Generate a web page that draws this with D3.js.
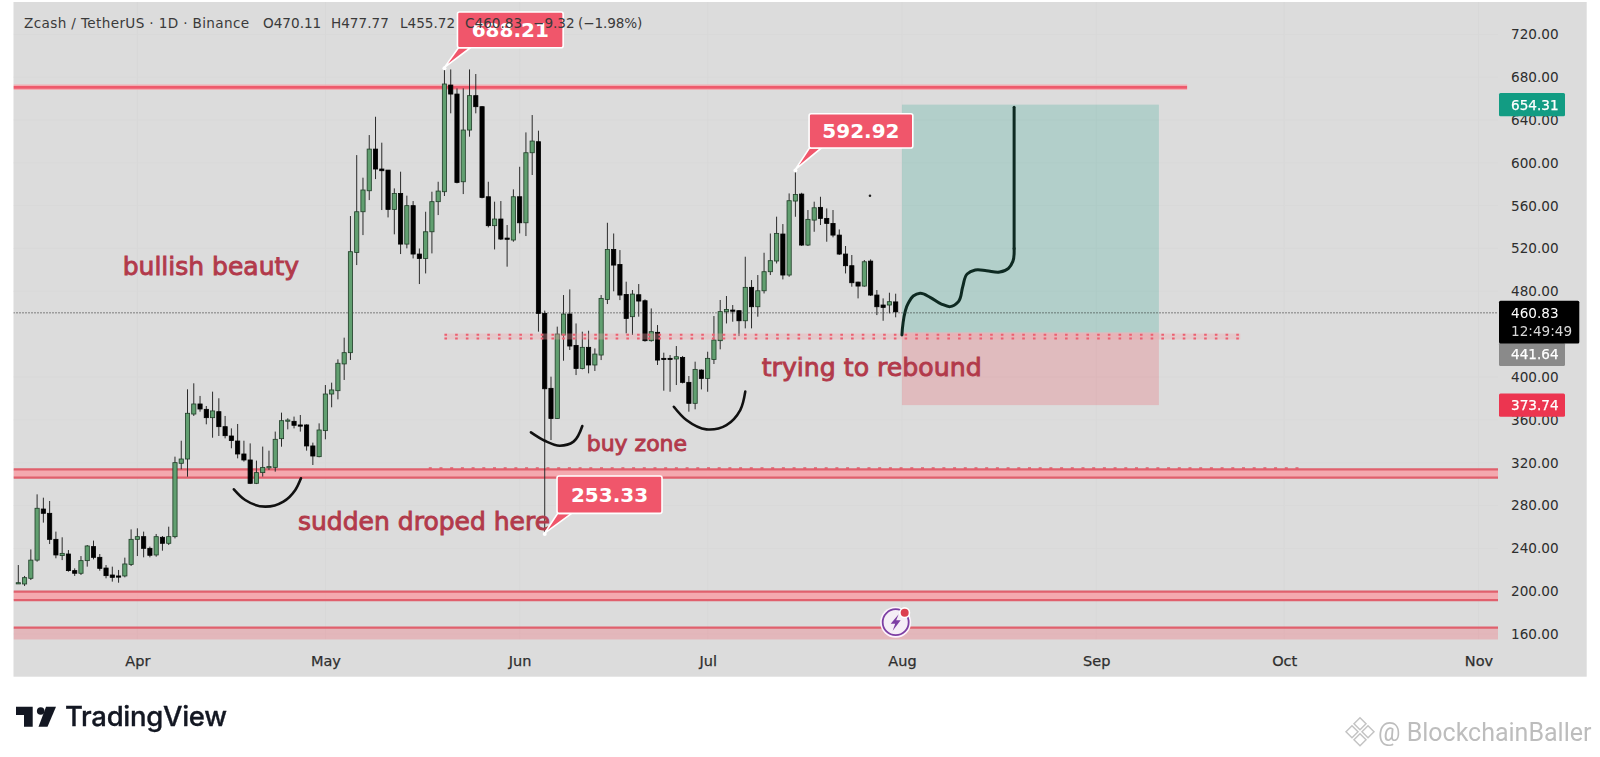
<!DOCTYPE html>
<html><head><meta charset="utf-8">
<script src="https://cdn.jsdelivr.net/npm/d3@7/dist/d3.min.js"></script>
<style>html,body{margin:0;padding:0;background:#fff;overflow:hidden}svg{display:block;filter:blur(.45px)}</style>
</head><body><svg id="c" width="1600" height="757"></svg>
<script>
// ---------- data ----------
const firstDay = "2025-03-13";
const opens = [207.2,206.7,212,229,276.7,272.7,248.4,233.2,234.7,219.2,
 216.7,228.5,241.6,231.6,221.6,215.1,214.2,214.2,225,248.4,
 250.9,240,233.8,250.3,244.7,250.9,319.4,323.4,365.4,374.8,
 369.8,362,367.6,353.6,344.9,340.2,328.1,322.5,300.7,310.7,
 315.3,315.6,342.4,359.2,358.6,355.2,355.2,335.6,325.6,349.9,
 384.1,387.2,412.2,422.7,516.3,554.3,573.9,612.8,594.2,593.2,
 556.5,571.4,524.1,560,514.8,510.7,535.6,563.7,573,672.6,
 664.2,582.3,630.6,662.7,652.4,568.3,541.3,547.5,529.7,527.9,
 568.3,544,609.4,619.7,459.4,389.4,361.3,439.2,458.8,429.5,
 408,427.7,411.2,420.5,472.4,519.1,505.1,477.1,456.3,476.8,
 471.2,433.9,441.7,417.4,417.4,416.8,418.3,395,375.4,406.5,
 398.7,416.4,433.9,460.9,462.5,461.9,452.5,483.7,465.6,480.5,
 498.3,508.3,533.5,495.2,564.3,570.8,523.2,546.5,558.4,548.1,
 543.4,532.5,514.8,503.9,488.6,484.9,508.2,476.5,467.2,467.2,470.11];
const closes = [207.9,212.6,229,277.4,272.7,248.4,233.8,235.3,219.2,216.7,
 228.5,242.2,231.6,221.3,214.5,212.9,213.2,225.4,248.4,250.9,
 240,233.5,250.9,244.7,250.9,320,323.4,366.1,374.8,370.1,
 362,368.3,353.6,345.2,340.6,328.1,322.5,300.7,310.7,315.6,
 316.3,341.8,359.2,359.8,354.9,354.6,335.6,326.2,350.5,384.1,
 387.9,412.8,422.7,517,554.3,574.6,612.8,594.2,592.6,556.5,
 571.4,524.1,560,514.8,510.7,535.6,563.7,573.6,673.6,664.2,
 581.7,630.6,662.7,652.4,567.7,541.3,547.5,528.8,528.8,568.3,
 544,609.4,620.3,459.4,389,361.3,440.1,458.8,428.9,408,
 427.7,411.2,421.4,473.4,519.1,504.5,476.5,454.7,477.4,470.9,
 433.9,442.3,415.8,416.8,416.8,418.9,395,375.4,407.1,398.7,
 417.4,434.5,461,463.1,461.9,452.5,483.7,465.6,480.5,498.3,
 508.6,534.1,495.2,564.6,570.5,523.2,547.2,558,548.1,543.4,
 532.5,514.8,503.9,488,484.9,507.6,476.5,465.6,465,470.3,460.83];
const highs = [224.4,214.2,239,290.4,287.3,284.2,255.6,250.3,238.4,221.3,
 232.8,243.1,247.2,234.7,224.4,222.9,219.8,231.3,257.7,258.7,
 255.6,241.6,253.4,251.5,260.2,325.6,340.5,388.5,394.1,382.3,
 372.9,386.3,380.1,363.6,352,356.1,340.5,338,321.9,335,
 331.2,349,366.7,361.4,363,364.5,355.8,338.7,356.7,392.5,
 394.7,416.5,436.7,550.3,607.2,586.1,625.9,643,618.8,593.2,
 576.1,591.7,569.3,564.3,520,554.3,573,582.3,688.21,687.2,
 669.5,669.5,687.2,682.9,653,582.3,563.7,564.3,541.9,575.2,
 596.3,628.4,644.6,630,462,400.3,447,476.5,481.8,450,
 442.3,443.2,426.7,476.5,544,534,518.5,489,481.2,486.8,
 472.5,464,448.5,422.7,420.5,428.9,419.6,400.9,414.3,407.1,
 423.6,456.9,471.9,475.6,467.2,462.5,512.3,490.5,495.2,516,
 534,549.7,542.8,571.4,592.92,572,555.9,563.7,568.3,557.4,
 555.9,537.8,522.3,513.9,489,509.2,509.8,481.2,473.4,478.7,477.77];
const lows = [206.7,204.8,210.4,227.5,264,244,230.7,229,218.2,214.2,
 215.1,222.9,229.7,219.1,212,208.9,207.9,212.9,223.5,232.8,
 231.6,231.6,232.2,237.8,243.1,249.3,313.8,306.9,363.6,367.6,
 355.8,343.3,344.9,342.7,333.4,324,321,300,300,307,
 313.2,311.6,334.9,351.1,352,349,331.2,317.8,325,341.8,
 371.7,379.1,397.2,415.9,504.5,532.5,565.2,584.8,555.9,549,
 533.2,514.8,520.1,510.7,486.8,496.7,515.4,551.2,569,646.2,
 580.8,570.8,624.4,646.2,566.8,539.7,519.1,527.9,503,526.3,
 534.1,531.6,588.6,442.3,253.33,341.1,361,415.2,425.2,401.8,
 407.1,403.4,405.6,415.8,468.1,480,471.8,440.7,439.2,456.3,
 433,433,411.2,387.2,386.2,392.5,394,367.6,369.8,388.4,
 386.2,412.1,425.8,450,451.6,438.2,445.4,445.4,456.3,478,
 495.2,506,491.1,493.6,549.6,522.3,522.3,535.6,541.9,526.3,
 530.4,513.9,496.7,484.3,473.4,484.3,475.6,457.8,452.5,459.4,455.72];

const priceTicks = [720,680,640,600,560,520,480,400,360,320,280,240,200,160];
const monthTicks = ["2025-04-01","2025-05-01","2025-06-01","2025-07-01","2025-08-01","2025-09-01","2025-10-01","2025-11-01"];
const monthNames = ["Apr","May","Jun","Jul","Aug","Sep","Oct","Nov"];

// levels, in price
const lastPrice = 460.83, entry = 441.64, target = 654.31, stop = 373.74;
const topLine = 670.5;
const bands = [[313.8,306],[199.5,191.7]];
const floorBand = [165.9,150];
const midDotted = 437.7, lowDotted = 314.7;
// hand-drawn strokes as [day index, price]
const forecast = [[141,439.2],[142,468.8],[142.8,475.6],[143.9,478.1],[145.5,474.4],[147.3,468.1],[148.7,465.7],[150,470.3],[150.7,484.3],[151.4,496.2],[152.7,499.9],[154.5,499.3],[156.6,498],[158,501.5],[158.7,508],[158.9,520]];
const forecastRise = [[158.9,520],[158.9,651.8]];
const arcA = [[34.4,295.1],[36.2,285.1],[39.4,278.9],[42.3,283.6],[44.2,294.5],[45.1,305.4]];
const arcB = [[81.8,348.3],[84,340.5],[86.4,335.8],[88.6,339.6],[90,354.2]];
const arcC = [[104.6,372.2],[106.6,359.8],[109.8,351.1],[113,355.1],[115.2,369.1],[116,386.3]];
const callouts = [{v:688.21,day:68},{v:592.92,day:124},{v:253.33,day:84}];
const notes = ["bullish beauty","sudden droped here","buy zone","trying to rebound"];
const headerParts = ["Zcash / TetherUS · 1D · Binance","O470.11","H477.77","L455.72","C460.83","−9.32","(−1.98%)"];

// ---------- scales ----------
const W=1600,H=757;
const pane={l:13.5,t:2,r:1498,b:639.5}, frame={r:1586.7,b:676.7};
const t0=Date.parse(firstDay+"T00:00:00Z");
const x=d3.scaleUtc().domain([new Date(t0),new Date(Date.parse("2025-11-01T00:00:00Z"))]).range([18.3,1478.5]);
const y=d3.scaleLinear().domain([160,720]).range([634,34.3]);
const X=i=>x(new Date(t0+i*864e5));
const svg=d3.select("#c");
const F='"DejaVu Sans",sans-serif', TXT="#2e2e2e", RED="#ee5a6c", PALE="#f6a3aa", NOTE="#b23a4b";

svg.append("rect").attr("x",13.5).attr("y",pane.t).attr("width",frame.r-13.5).attr("height",frame.b-pane.t).attr("fill","#dcdcdc");
const defs=svg.append("defs");
defs.append("clipPath").attr("id","pane").append("rect").attr("x",pane.l).attr("y",pane.t).attr("width",pane.r-pane.l).attr("height",pane.b-pane.t);
const g=svg.append("g").attr("clip-path","url(#pane)");

// grid
g.selectAll(".gy").data(priceTicks).join("line").attr("x1",pane.l).attr("x2",pane.r).attr("y1",d=>y(d)).attr("y2",d=>y(d)).attr("stroke","#d9d9d9").attr("stroke-width",1);
const months=monthTicks.map(d=>new Date(d+"T00:00:00Z"));
g.selectAll(".gx").data(months).join("line").attr("x1",d=>x(d)).attr("x2",d=>x(d)).attr("y1",pane.t).attr("y2",pane.b).attr("stroke","#d8d8d8").attr("stroke-width",1);

// position box
const bx0=X(141), bx1=X(182);
g.append("rect").attr("x",bx0).attr("width",bx1-bx0).attr("y",y(target)).attr("height",y(entry)-y(target)).attr("fill","rgba(8,153,129,.2)");
g.append("rect").attr("x",bx0).attr("width",bx1-bx0).attr("y",y(entry)).attr("height",y(stop)-y(entry)).attr("fill","rgba(242,54,69,.2)");

// last price
g.append("line").attr("x1",pane.l).attr("x2",pane.r).attr("y1",y(lastPrice)+1).attr("y2",y(lastPrice)+1).attr("stroke","#222").attr("stroke-width",1).attr("stroke-dasharray","1 2");

// bands
const bandG=g.append("g");
bandG.append("line").attr("x1",pane.l).attr("x2",X(186.5)).attr("y1",y(topLine)).attr("y2",y(topLine)).attr("stroke",PALE).attr("stroke-width",5.5).attr("stroke-opacity",.85);
bandG.append("line").attr("x1",pane.l).attr("x2",X(186.5)).attr("y1",y(topLine)).attr("y2",y(topLine)).attr("stroke",RED).attr("stroke-width",2.8);
bands.forEach(b=>{
 bandG.append("rect").attr("x",pane.l).attr("width",pane.r-pane.l).attr("y",y(b[0])).attr("height",y(b[1])-y(b[0])).attr("fill",PALE).attr("fill-opacity",.9);
 b.forEach(v=>bandG.append("line").attr("x1",pane.l).attr("x2",pane.r).attr("y1",y(v)).attr("y2",y(v)).attr("stroke","#e0606d").attr("stroke-width",2.2));
});
bandG.append("rect").attr("x",pane.l).attr("width",pane.r-pane.l).attr("y",y(floorBand[0])).attr("height",y(floorBand[1])-y(floorBand[0])).attr("fill","#f2747e").attr("fill-opacity",.35);
bandG.append("line").attr("x1",pane.l).attr("x2",pane.r).attr("y1",y(floorBand[0])).attr("y2",y(floorBand[0])).attr("stroke","#e0606d").attr("stroke-width",2.2);

// candles
const idx=d3.range(opens.length);
const c=g.append("g");
c.selectAll(".w").data(idx).join("line").attr("x1",X).attr("x2",X).attr("y1",i=>y(highs[i])).attr("y2",i=>y(lows[i])).attr("stroke","#2b2b2b").attr("stroke-width",1);
c.selectAll(".b").data(idx).join("rect").attr("x",i=>X(i)-2.1).attr("width",4.2)
 .attr("y",i=>y(Math.max(opens[i],closes[i]))).attr("height",i=>Math.max(1.2,Math.abs(y(opens[i])-y(closes[i]))))
 .attr("fill",i=>closes[i]>=opens[i]?"#619f70":"#000").attr("stroke",i=>closes[i]>=opens[i]?"#1f3d27":"#000").attr("stroke-width",.8);
g.append("circle").attr("cx",X(135.9)).attr("cy",y(569.3)).attr("r",1.3).attr("fill","#222");

// dotted levels
const midA=X(68), midB=X(195);
g.append("line").attr("x1",midA).attr("x2",midB).attr("y1",y(midDotted)).attr("y2",y(midDotted)).attr("stroke","#f3a6ad").attr("stroke-width",6).attr("stroke-opacity",.35);
[-1.9,1.9].forEach(o=>g.append("line").attr("x1",midA).attr("x2",midB).attr("y1",y(midDotted)+o).attr("y2",y(midDotted)+o).attr("stroke","#ec5f70").attr("stroke-width",2).attr("stroke-dasharray","2.6 8.1"));
g.append("line").attr("x1",X(65.5)).attr("x2",X(205)).attr("y1",y(lowDotted)).attr("y2",y(lowDotted)).attr("stroke","#e0606d").attr("stroke-width",2.4).attr("stroke-dasharray","3 7.7");

// hand-drawn strokes
const ln=d3.line().x(d=>X(d[0])).y(d=>y(d[1])).curve(d3.curveCatmullRom.alpha(1));
const straight=d3.line().x(d=>X(d[0])).y(d=>y(d[1]));
svg.append("path").attr("d",ln(forecast)).attr("fill","none").attr("stroke","#0e2a22").attr("stroke-width",3).attr("stroke-linecap","round");
svg.append("path").attr("d",straight(forecastRise)).attr("fill","none").attr("stroke","#0e2a22").attr("stroke-width",3).attr("stroke-linecap","round");
[arcA,arcB,arcC].forEach(a=>svg.append("path").attr("d",ln(a)).attr("fill","none").attr("stroke","#111").attr("stroke-width",2.6).attr("stroke-linecap","round"));

// notes
const notePos=[[122.7,275,25],[298,530,25],[586.7,451,22],[761.7,376,25.2]];
svg.selectAll(".note").data(notes).join("text").text(d=>d)
 .attr("x",(d,i)=>notePos[i][0]).attr("y",(d,i)=>notePos[i][1]).attr("font-size",(d,i)=>notePos[i][2])
 .attr("font-family",F).attr("fill",NOTE).attr("stroke",NOTE).attr("stroke-width",.9);

// callouts
const boxes=[{dx:13,dy:-56.3,w:105.7,h:35.7,b:[14,26]},{dx:13.7,dy:-56.7,w:103.7,h:34.3,b:[14,26]},{dx:12.3,dy:-58,w:105,h:37.3,b:[13,27]}];
const cg=svg.append("g");
callouts.forEach((k,i)=>{
 const tx=X(k.day), ty=y(k.v), b=boxes[i];
 const bx=tx+b.dx, by=ty+b.dy;
 const tb=by+b.h;
 cg.append("path").attr("d",`M${tx},${ty-1}L${tx+b.b[0]},${tb}L${tx+b.b[1]},${tb}Z`).attr("fill","#f0566b").attr("stroke","#fff").attr("stroke-width",1.6);
 cg.append("circle").attr("cx",tx).attr("cy",ty).attr("r",2).attr("fill","#fff");
 cg.append("rect").attr("x",bx).attr("y",by).attr("width",b.w).attr("height",b.h).attr("rx",2).attr("fill","#f0566b").attr("stroke","#fff").attr("stroke-width",1.6);
 cg.append("text").text(k.v.toFixed(2)).attr("x",bx+b.w/2).attr("y",by+b.h/2+7.5).attr("text-anchor","middle").attr("font-family",F).attr("font-weight",700).attr("font-size",20).attr("fill","#fff");
});

// icon
const ic=svg.append("g").attr("transform",`translate(${X(140)},${y(171)})`);
ic.append("circle").attr("r",15.5).attr("fill","#fdf3fb");
ic.append("circle").attr("r",13).attr("fill","#f5eef6").attr("stroke","#7d3fa3").attr("stroke-width",1.8);
ic.append("path").attr("d","M3,-8L-5,1.5H-.5L-3,8.5L5,-2H.5Z").attr("fill","#7d3fa3");
ic.append("circle").attr("cx",9).attr("cy",-9.5).attr("r",5.6).attr("fill","#fff");
ic.append("circle").attr("cx",9).attr("cy",-9.5).attr("r",4).attr("fill","#dc3f4f");

// header
const hx=[24,263,331,400,465,533,578];
const hs=[.36,0,0,0,0,0,-.12];
svg.selectAll(".hd").data(headerParts).join("text").text(d=>d).attr("x",(d,i)=>hx[i]).attr("y",28)
 .attr("font-family",F).attr("font-size",13.6).attr("letter-spacing",(d,i)=>hs[i]).attr("fill","#3a3a3a");

// axes
const ya=svg.append("g").attr("transform","translate(1511,0)").call(d3.axisRight(y).tickValues(priceTicks).tickFormat(d3.format(".2f")).tickSize(0).tickPadding(0));
ya.select(".domain").remove();
ya.selectAll("text").attr("font-family",F).attr("font-size",13.6).attr("fill",TXT);
const xa=svg.append("g").attr("transform",`translate(0,${pane.b+16})`).call(d3.axisBottom(x).tickValues(months).tickFormat((d,i)=>monthNames[i]).tickSize(0).tickPadding(0));
xa.select(".domain").remove();
xa.selectAll("text").attr("font-family",F).attr("font-size",14.5).attr("stroke",TXT).attr("stroke-width",.25).attr("fill",TXT);

// price tags
const tags=[[target,"#129c83",0],[entry,"#8a8a8a",22],[stop,"#ec3550",0]];
tags.forEach(t=>{
 const cy=y(t[0])+t[2];
 svg.append("rect").attr("x",1499).attr("y",cy-11.6).attr("width",66).attr("height",23.2).attr("rx",1.5).attr("fill",t[1]);
 svg.append("text").text(t[0].toFixed(2)).attr("x",1511).attr("y",cy+5).attr("font-family",F).attr("font-size",13.6).attr("stroke","#fff").attr("stroke-width",.25).attr("fill","#fff");
});
const ly=y(lastPrice);
svg.append("rect").attr("x",1499).attr("y",ly-11).attr("width",80.3).attr("height",42.6).attr("rx",1.5).attr("fill","#000");
svg.append("text").text(lastPrice.toFixed(2)).attr("x",1511).attr("y",ly+6).attr("font-family",F).attr("font-size",13.6).attr("fill","#fff");
svg.append("text").text("12:49:49").attr("x",1511).attr("y",ly+24).attr("font-family",F).attr("font-size",13.6).attr("fill","#d8d8d8");

// footer brand
const logo=svg.append("g").attr("fill","#131722");
logo.append("path").attr("d","M16,706.7H32.7V726.7H24V715H16Z");
logo.append("circle").attr("cx",40.7).attr("cy",711).attr("r",3.8);
logo.append("path").attr("d","M46,706.7H56L47.5,726.7H38.5Z");
svg.append("text").text("TradingView").attr("x",65).attr("y",726).attr("font-family","Inter,sans-serif").attr("font-weight",500).attr("font-size",27.5).attr("letter-spacing",-.3).attr("stroke","#131722").attr("stroke-width",.35).attr("fill","#131722");

// watermark
const wm=svg.append("g").attr("transform","translate(1360,731.7)").attr("fill","none").attr("stroke","#c4c4c4").attr("stroke-width",1.5);
wm.append("path").attr("d","M0,-14L6,-8L0,-2L-6,-8Z");
wm.append("path").attr("d","M-14,0L-8,-6L-2,0L-8,6Z");
wm.append("path").attr("d","M14,0L8,-6L2,0L8,6Z");
wm.append("path").attr("d","M0,14L6,8L0,2L-6,8Z");
svg.append("text").text("@ BlockchainBaller").attr("x",1378).attr("y",741).attr("font-family","Roboto,sans-serif").attr("font-size",25).attr("fill","#bdbdbd");
</script></body></html>
